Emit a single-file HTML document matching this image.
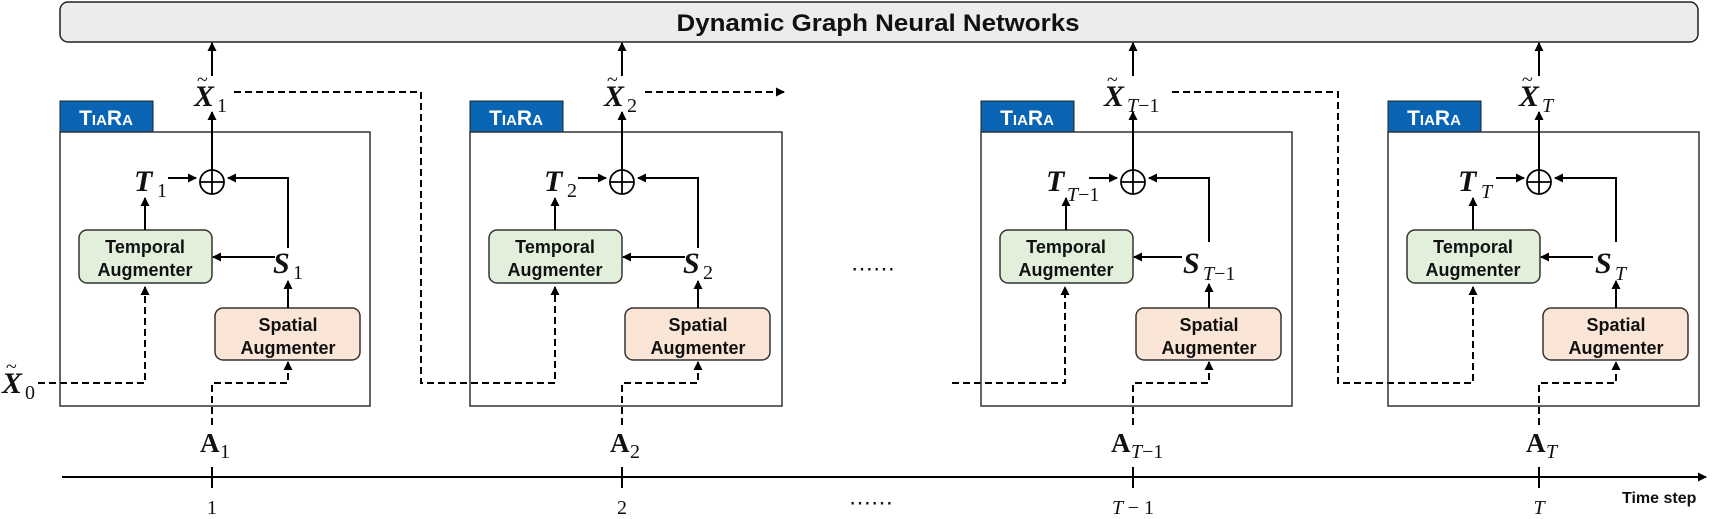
<!DOCTYPE html>
<html><head><meta charset="utf-8"><style>
html,body{margin:0;padding:0;background:#fff;}
svg{display:block;}
.bx{font-family:"Liberation Sans",sans-serif;font-weight:bold;font-size:18px;fill:#111;}
.m{font-family:"Liberation Serif",serif;font-style:italic;font-weight:bold;fill:#111;}
.A{font-family:"Liberation Serif",serif;font-style:normal;font-weight:bold;fill:#111;font-size:27px;}
.s{font-family:"Liberation Serif",serif;font-style:italic;font-size:20px;fill:#111;}
.n{font-family:"Liberation Serif",serif;font-size:20px;fill:#111;}
.ti{font-family:"Liberation Sans",sans-serif;font-weight:bold;fill:#fff;}
</style></head><body>
<svg width="1713" height="519" viewBox="0 0 1713 519" xmlns="http://www.w3.org/2000/svg">
<defs>
<marker id="a" markerWidth="9" markerHeight="9" refX="8" refY="4.5" orient="auto" markerUnits="userSpaceOnUse">
<path d="M0,0 L9,4.5 L0,9 Z" fill="#000"/></marker>
</defs>
<rect x="60" y="2" width="1638" height="40" rx="8" fill="#ececec" stroke="#222" stroke-width="1.5"/>
<text x="878" y="31" text-anchor="middle" font-family="Liberation Sans,sans-serif" font-weight="bold" font-size="24" textLength="403" lengthAdjust="spacingAndGlyphs" fill="#111">Dynamic Graph Neural Networks</text>

<g stroke="#000" stroke-width="2" fill="none">
<line x1="62" y1="477" x2="1706" y2="477" marker-end="url(#a)"/>
<line x1="212" y1="467" x2="212" y2="488"/>
<line x1="622" y1="467" x2="622" y2="488"/>
<line x1="1133" y1="467" x2="1133" y2="488"/>
<line x1="1539" y1="467" x2="1539" y2="488"/>
</g>
<text x="1622" y="503" font-family="Liberation Sans,sans-serif" font-weight="bold" font-size="16" fill="#111">Time step</text>
<text x="212" y="514" class="n" text-anchor="middle" font-size="23">1</text>
<text x="622" y="514" class="n" text-anchor="middle" font-size="23">2</text>
<text x="1133" y="514" class="s" text-anchor="middle" font-size="23">T <tspan style="font-style:normal">− 1</tspan></text>
<text x="1539" y="514" class="s" text-anchor="middle" font-size="23">T</text>
<text x="851" y="276" font-family="Liberation Sans,sans-serif" font-size="22" fill="#111">⋯⋯</text>
<text x="849" y="510" font-family="Liberation Sans,sans-serif" font-size="22" fill="#111">⋯⋯</text>

<g stroke="#000" stroke-width="2" fill="none" stroke-dasharray="7,4">
<polyline points="38,383 145,383 145,287" marker-end="url(#a)"/>
<polyline points="234,92 421,92 421,383 555,383 555,287" marker-end="url(#a)"/>
<polyline points="645,92 784,92" marker-end="url(#a)"/>
<polyline points="952,383 1065,383 1065,287" marker-end="url(#a)"/>
<polyline points="1172,92 1338,92 1338,383 1473,383 1473,287" marker-end="url(#a)"/>
</g>
<text x="2" y="393" class="m" font-size="30">X</text><text x="6" y="373" class="n" font-size="20">~</text><text x="25" y="399" class="n" font-size="16">0</text>

<!-- BLOCK 1 -->
<g transform="translate(60,0)">
<rect x="0" y="101" width="93" height="31" fill="#0a64b4" stroke="#222" stroke-width="1"/>
<text x="46" y="125" text-anchor="middle" class="ti" font-size="21">T<tspan font-size="15">IA</tspan>R<tspan font-size="15">A</tspan></text>
<rect x="0" y="132" width="310" height="274" fill="none" stroke="#333" stroke-width="1.5"/>
<rect x="19" y="230" width="133" height="53" rx="8" fill="#e2efda" stroke="#333" stroke-width="1.5"/>
<text x="85" y="253" text-anchor="middle" class="bx">Temporal</text><text x="85" y="276" text-anchor="middle" class="bx">Augmenter</text>
<rect x="155" y="308" width="145" height="52" rx="8" fill="#fbe5d6" stroke="#333" stroke-width="1.5"/>
<text x="228" y="331" text-anchor="middle" class="bx">Spatial</text><text x="228" y="354" text-anchor="middle" class="bx">Augmenter</text>
<g stroke="#000" stroke-width="2" fill="none">
<circle cx="152" cy="182" r="12" stroke-width="1.8"/><line x1="140" y1="182" x2="164" y2="182" stroke-width="1.8"/><line x1="152" y1="170" x2="152" y2="194" stroke-width="1.8"/>
<line x1="152" y1="170" x2="152" y2="112" marker-end="url(#a)"/>
<line x1="152" y1="76" x2="152" y2="43" marker-end="url(#a)"/>
<line x1="85" y1="230" x2="85" y2="198" marker-end="url(#a)"/>
<line x1="108" y1="178" x2="136" y2="178" marker-end="url(#a)"/>
<polyline points="228,248 228,178 168,178" marker-end="url(#a)"/>
<line x1="215" y1="257" x2="153" y2="257" marker-end="url(#a)"/>
<line x1="228" y1="308" x2="228" y2="281" marker-end="url(#a)"/>
<polyline points="152,425 152,383 228,383 228,362" stroke-dasharray="7,4" marker-end="url(#a)"/>
</g>
<text x="74" y="191" class="m" font-size="30">T</text><text x="97" y="197" class="n">1</text>
<text x="213" y="273" class="m" font-size="30">S</text><text x="233" y="279" class="n">1</text>
<text x="134" y="106" class="m" font-size="30">X</text><text x="137" y="86" class="n" font-size="20">~</text><text x="157" y="112" class="n">1</text>
<text x="140" y="452" class="A">A</text><text x="160" y="458" class="n">1</text>
</g>

<!-- BLOCK 2 -->
<g transform="translate(470,0)">
<rect x="0" y="101" width="93" height="31" fill="#0a64b4" stroke="#222" stroke-width="1"/>
<text x="46" y="125" text-anchor="middle" class="ti" font-size="21">T<tspan font-size="15">IA</tspan>R<tspan font-size="15">A</tspan></text>
<rect x="0" y="132" width="312" height="274" fill="none" stroke="#333" stroke-width="1.5"/>
<rect x="19" y="230" width="133" height="53" rx="8" fill="#e2efda" stroke="#333" stroke-width="1.5"/>
<text x="85" y="253" text-anchor="middle" class="bx">Temporal</text><text x="85" y="276" text-anchor="middle" class="bx">Augmenter</text>
<rect x="155" y="308" width="145" height="52" rx="8" fill="#fbe5d6" stroke="#333" stroke-width="1.5"/>
<text x="228" y="331" text-anchor="middle" class="bx">Spatial</text><text x="228" y="354" text-anchor="middle" class="bx">Augmenter</text>
<g stroke="#000" stroke-width="2" fill="none">
<circle cx="152" cy="182" r="12" stroke-width="1.8"/><line x1="140" y1="182" x2="164" y2="182" stroke-width="1.8"/><line x1="152" y1="170" x2="152" y2="194" stroke-width="1.8"/>
<line x1="152" y1="170" x2="152" y2="112" marker-end="url(#a)"/>
<line x1="152" y1="76" x2="152" y2="43" marker-end="url(#a)"/>
<line x1="85" y1="230" x2="85" y2="198" marker-end="url(#a)"/>
<line x1="108" y1="178" x2="136" y2="178" marker-end="url(#a)"/>
<polyline points="228,248 228,178 168,178" marker-end="url(#a)"/>
<line x1="215" y1="257" x2="153" y2="257" marker-end="url(#a)"/>
<line x1="228" y1="308" x2="228" y2="281" marker-end="url(#a)"/>
<polyline points="152,425 152,383 228,383 228,362" stroke-dasharray="7,4" marker-end="url(#a)"/>
</g>
<text x="74" y="191" class="m" font-size="30">T</text><text x="97" y="197" class="n">2</text>
<text x="213" y="273" class="m" font-size="30">S</text><text x="233" y="279" class="n">2</text>
<text x="134" y="106" class="m" font-size="30">X</text><text x="137" y="86" class="n" font-size="20">~</text><text x="157" y="112" class="n">2</text>
<text x="140" y="452" class="A">A</text><text x="160" y="458" class="n">2</text>
</g>

<!-- BLOCK T-1 -->
<g transform="translate(981,0)">
<rect x="0" y="101" width="93" height="31" fill="#0a64b4" stroke="#222" stroke-width="1"/>
<text x="46" y="125" text-anchor="middle" class="ti" font-size="21">T<tspan font-size="15">IA</tspan>R<tspan font-size="15">A</tspan></text>
<rect x="0" y="132" width="311" height="274" fill="none" stroke="#333" stroke-width="1.5"/>
<rect x="19" y="230" width="133" height="53" rx="8" fill="#e2efda" stroke="#333" stroke-width="1.5"/>
<text x="85" y="253" text-anchor="middle" class="bx">Temporal</text><text x="85" y="276" text-anchor="middle" class="bx">Augmenter</text>
<rect x="155" y="308" width="145" height="52" rx="8" fill="#fbe5d6" stroke="#333" stroke-width="1.5"/>
<text x="228" y="331" text-anchor="middle" class="bx">Spatial</text><text x="228" y="354" text-anchor="middle" class="bx">Augmenter</text>
<g stroke="#000" stroke-width="2" fill="none">
<circle cx="152" cy="182" r="12" stroke-width="1.8"/><line x1="140" y1="182" x2="164" y2="182" stroke-width="1.8"/><line x1="152" y1="170" x2="152" y2="194" stroke-width="1.8"/>
<line x1="152" y1="170" x2="152" y2="112" marker-end="url(#a)"/>
<line x1="152" y1="76" x2="152" y2="43" marker-end="url(#a)"/>
<line x1="85" y1="230" x2="85" y2="198" marker-end="url(#a)"/>
<line x1="108" y1="178" x2="136" y2="178" marker-end="url(#a)"/>
<polyline points="228,242 228,178 168,178" marker-end="url(#a)"/>
<line x1="201" y1="257" x2="153" y2="257" marker-end="url(#a)"/>
<line x1="228" y1="308" x2="228" y2="284" marker-end="url(#a)"/>
<polyline points="152,425 152,383 228,383 228,362" stroke-dasharray="7,4" marker-end="url(#a)"/>
</g>
<text x="65" y="191" class="m" font-size="30">T</text><text x="86" y="201" class="s">T<tspan style="font-style:normal">−1</tspan></text>
<text x="202" y="273" class="m" font-size="30">S</text><text x="222" y="280" class="s">T<tspan style="font-style:normal">−1</tspan></text>
<text x="123" y="106" class="m" font-size="30">X</text><text x="126" y="86" class="n" font-size="20">~</text><text x="146" y="112" class="s">T<tspan style="font-style:normal">−1</tspan></text>
<text x="130" y="452" class="A">A</text><text x="150" y="458" class="s">T<tspan style="font-style:normal">−1</tspan></text>
</g>

<!-- BLOCK T -->
<g transform="translate(1388,0)">
<rect x="0" y="101" width="93" height="31" fill="#0a64b4" stroke="#222" stroke-width="1"/>
<text x="46" y="125" text-anchor="middle" class="ti" font-size="21">T<tspan font-size="15">IA</tspan>R<tspan font-size="15">A</tspan></text>
<rect x="0" y="132" width="311" height="274" fill="none" stroke="#333" stroke-width="1.5"/>
<rect x="19" y="230" width="133" height="53" rx="8" fill="#e2efda" stroke="#333" stroke-width="1.5"/>
<text x="85" y="253" text-anchor="middle" class="bx">Temporal</text><text x="85" y="276" text-anchor="middle" class="bx">Augmenter</text>
<rect x="155" y="308" width="145" height="52" rx="8" fill="#fbe5d6" stroke="#333" stroke-width="1.5"/>
<text x="228" y="331" text-anchor="middle" class="bx">Spatial</text><text x="228" y="354" text-anchor="middle" class="bx">Augmenter</text>
<g stroke="#000" stroke-width="2" fill="none">
<circle cx="151" cy="182" r="12" stroke-width="1.8"/><line x1="139" y1="182" x2="163" y2="182" stroke-width="1.8"/><line x1="151" y1="170" x2="151" y2="194" stroke-width="1.8"/>
<line x1="151" y1="170" x2="151" y2="112" marker-end="url(#a)"/>
<line x1="151" y1="76" x2="151" y2="43" marker-end="url(#a)"/>
<line x1="85" y1="230" x2="85" y2="198" marker-end="url(#a)"/>
<line x1="108" y1="178" x2="136" y2="178" marker-end="url(#a)"/>
<polyline points="228,242 228,178 167,178" marker-end="url(#a)"/>
<line x1="205" y1="257" x2="153" y2="257" marker-end="url(#a)"/>
<line x1="228" y1="308" x2="228" y2="281" marker-end="url(#a)"/>
<polyline points="151,425 151,383 228,383 228,362" stroke-dasharray="7,4" marker-end="url(#a)"/>
</g>
<text x="70" y="191" class="m" font-size="30">T</text><text x="93" y="198" class="s">T</text>
<text x="207" y="273" class="m" font-size="30">S</text><text x="227" y="280" class="s">T</text>
<text x="131" y="106" class="m" font-size="30">X</text><text x="134" y="86" class="n" font-size="20">~</text><text x="154" y="112" class="s">T</text>
<text x="138" y="452" class="A">A</text><text x="158" y="458" class="s">T</text>
</g>
</svg>
</body></html>
